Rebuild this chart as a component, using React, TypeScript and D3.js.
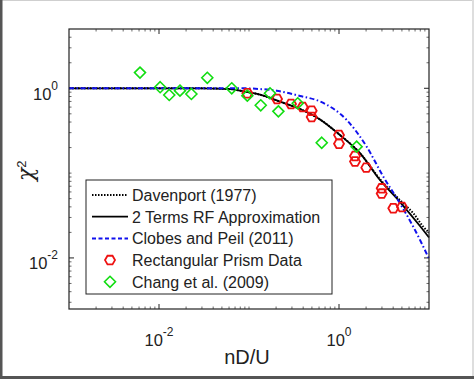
import React from "react";
import * as d3 from "d3";

// ---- data ----
const rfX = [0.001, 0.0286, 0.0615, 0.0794, 0.1166, 0.157, 0.221, 0.369, 0.615, 1.026, 1.71, 2.85, 4.76, 7.94, 10];
const rfY = [1, 1, 0.98, 0.937, 0.869, 0.796, 0.695, 0.57, 0.429, 0.281, 0.172, 0.083, 0.0456, 0.0238, 0.0174];

const davenportX = [0.001, 0.0286, 0.0615, 0.0794, 0.1166, 0.157, 0.221, 0.369, 0.615, 1.026, 1.71, 2.85, 5.18, 6.69, 8.65, 10];
const davenportY = [1, 1, 0.98, 0.937, 0.869, 0.796, 0.695, 0.57, 0.429, 0.281, 0.172, 0.085, 0.044, 0.0336, 0.0233, 0.0199];

const clobesX = [0.001, 0.0794, 0.1325, 0.203, 0.369, 0.615, 1.218, 2.03, 3.11, 4.76, 6.69, 10];
const clobesY = [1, 1, 0.98, 0.937, 0.811, 0.699, 0.423, 0.205, 0.0907, 0.044, 0.0233, 0.0098];

const prismX = [0.0958, 0.205, 0.293, 0.395, 0.497, 0.497, 1.0, 1.0, 1.506, 1.506, 2.01, 2.98, 2.98, 4.01, 5.01];
const prismY = [0.873, 0.748, 0.653, 0.601, 0.544, 0.459, 0.281, 0.222, 0.159, 0.137, 0.116, 0.0662, 0.0574, 0.0385, 0.0398];

const changX = [0.00615, 0.0103, 0.013, 0.0171, 0.0229, 0.0344, 0.0643, 0.0958, 0.135, 0.171, 0.212, 0.348, 0.643, 1.57];
const changY = [1.53, 1.03, 0.834, 0.937, 0.857, 1.33, 1.0, 0.818, 0.63, 0.873, 0.535, 0.666, 0.228, 0.205];

const xTickValues = [0.01, 1];
const xTickExponents = ["-2", "0"];
const yTickValues = [1, 0.01];
const yTickExponents = ["0", "-2"];

const legendLabels = [
  "Davenport (1977)",
  "2 Terms RF Approximation",
  "Clobes and Peil (2011)",
  "Rectangular Prism Data",
  "Chang et al. (2009)",
];

const FONT = "'Liberation Sans', Arial, Helvetica, sans-serif";
const W = 474;
const H = 379;
const left = 69, right = 429, top = 29, bottom = 309;

const x = d3.scaleLog().domain([1e-3, 1e1]).range([left, right]);
const y = d3.scaleLog().domain([0.0025, 5]).range([bottom, top]);

const zip = (xs: number[], ys: number[]) => xs.map((v, i) => [v, ys[i]] as [number, number]);

const line = d3
  .line<[number, number]>()
  .x((d) => x(d[0]))
  .y((d) => y(d[1]))
  .curve(d3.curveMonotoneX);

const hexPath = (cx: number, cy: number, r: number) => {
  const pts = d3.range(6).map((i) => {
    const a = (Math.PI / 3) * i;
    return [cx + r * Math.cos(a), cy + r * Math.sin(a)];
  });
  return "M" + pts.map((p) => p.join(",")).join("L") + "Z";
};
const diamondPath = (cx: number, cy: number, r: number) =>
  `M${cx},${cy - r}L${cx + r},${cy}L${cx},${cy + r}L${cx - r},${cy}Z`;

const RED = "#ee1111";
const GREEN = "#11dd11";
const BLUE = "#1010ee";

export default function App() {
  const xMinor: number[] = [];
  for (let e = -3; e < 1; e++) for (let k = 1; k <= 9; k++) {
    const v = k * Math.pow(10, e);
    if (v > 1e-3 && v < 1e1 && !xTickValues.some((t) => Math.abs(t - v) < 1e-9)) xMinor.push(v);
  }
  const yMinor: number[] = [];
  for (let e = -3; e < 1; e++) for (let k = 1; k <= 9; k++) {
    const v = k * Math.pow(10, e);
    if (v > 0.0025 && v < 5 && !yTickValues.some((t) => Math.abs(t - v) < 1e-9)) yMinor.push(v);
  }

  const legX = 86, legY = 180, legW = 246, legH = 114;
  const rowY = (i: number) => 195 + i * 21.7;

  return (
    <svg
      width={W}
      height={H}
      style={{ position: "absolute", left: 0, top: 0, background: "#fff" }}
      fontFamily={FONT}
    >
      <rect x={0} y={0} width={W} height={H} fill="#fff" />
      {/* image frame */}
      <rect x={0} y={0} width={W} height={1} fill="#cfcfcf" />
      <rect x={W - 2} y={0} width={2} height={H} fill="#dedede" />
      <rect x={0} y={0} width={2.5} height={H} fill="#555" />
      <rect x={0} y={H - 3} width={W} height={3} fill="#555" />

      {/* minor ticks */}
      <g stroke="#444" strokeWidth={0.8}>
        {xMinor.map((v, i) => (
          <g key={"xm" + i}>
            <line x1={x(v)} x2={x(v)} y1={bottom} y2={bottom - 2.5} />
            <line x1={x(v)} x2={x(v)} y1={top} y2={top + 2.5} />
          </g>
        ))}
        {yMinor.map((v, i) => (
          <g key={"ym" + i}>
            <line y1={y(v)} y2={y(v)} x1={left} x2={left + 2.5} />
            <line y1={y(v)} y2={y(v)} x1={right} x2={right - 2.5} />
          </g>
        ))}
      </g>
      {/* major ticks */}
      <g stroke="#222" strokeWidth={1}>
        {xTickValues.map((v, i) => (
          <g key={"xt" + i}>
            <line x1={x(v)} x2={x(v)} y1={bottom} y2={bottom - 5} />
            <line x1={x(v)} x2={x(v)} y1={top} y2={top + 5} />
          </g>
        ))}
        {yTickValues.map((v, i) => (
          <g key={"yt" + i}>
            <line y1={y(v)} y2={y(v)} x1={left} x2={left + 5} />
            <line y1={y(v)} y2={y(v)} x1={right} x2={right - 5} />
          </g>
        ))}
      </g>

      {/* curves */}
      <path d={line(zip(davenportX, davenportY)) || ""} fill="none" stroke="#000" strokeWidth={2} strokeDasharray="1.5,1.5" />
      <path d={line(zip(rfX, rfY)) || ""} fill="none" stroke="#000" strokeWidth={1.8} />
      <path d={line(zip(clobesX, clobesY)) || ""} fill="none" stroke={BLUE} strokeWidth={2} strokeDasharray="5,2.5,1.5,2.5" />

      {/* data markers */}
      {prismX.map((v, i) => (
        <path key={"p" + i} d={hexPath(x(v), y(prismY[i]), 5)} fill="none" stroke={RED} strokeWidth={1.8} />
      ))}
      {changX.map((v, i) => (
        <path key={"c" + i} d={diamondPath(x(v), y(changY[i]), 5.5)} fill="none" stroke={GREEN} strokeWidth={1.6} />
      ))}

      {/* axes box */}
      <rect x={left} y={top} width={right - left} height={bottom - top} fill="none" stroke="#222" strokeWidth={1.2} />

      {/* tick labels */}
      {xTickValues.map((v, i) => (
        <text key={"xl" + i} x={x(v)} y={346} textAnchor="middle" fontSize={16.5} fill="#222">
          10<tspan fontSize={12} dy={-10}>{xTickExponents[i]}</tspan>
        </text>
      ))}
      {yTickValues.map((v, i) => (
        <text key={"yl" + i} x={58} y={y(v) + 11.5} textAnchor="end" fontSize={16.5} fill="#222">
          10<tspan fontSize={12} dy={-10}>{yTickExponents[i]}</tspan>
        </text>
      ))}

      {/* axis labels */}
      <text x={247} y={364} textAnchor="middle" fontSize={20} fill="#222">nD/U</text>
      <text transform="translate(33,181) rotate(-90)" fontSize={22} fill="#222">
        <tspan fontFamily="'DejaVu Serif', serif" fontStyle="italic">χ</tspan>
        <tspan fontSize={13} dy={-7}>2</tspan>
      </text>

      {/* legend */}
      <rect x={legX} y={legY} width={legW} height={legH} fill="#fff" stroke="#222" strokeWidth={1} />
      <line x1={92} x2={128} y1={rowY(0)} y2={rowY(0)} stroke="#000" strokeWidth={2} strokeDasharray="1.5,1.5" />
      <line x1={92} x2={128} y1={rowY(1)} y2={rowY(1)} stroke="#000" strokeWidth={1.8} />
      <line x1={92} x2={128} y1={rowY(2)} y2={rowY(2)} stroke={BLUE} strokeWidth={2} strokeDasharray="4,2.5" />
      <path d={hexPath(110, rowY(3), 5)} fill="none" stroke={RED} strokeWidth={1.8} />
      <path d={diamondPath(110, rowY(4), 5.5)} fill="none" stroke={GREEN} strokeWidth={1.6} />
      {legendLabels.map((t, i) => (
        <text key={"lg" + i} x={132} y={rowY(i) + 6} fontSize={16} fill="#222">{t}</text>
      ))}
    </svg>
  );
}
